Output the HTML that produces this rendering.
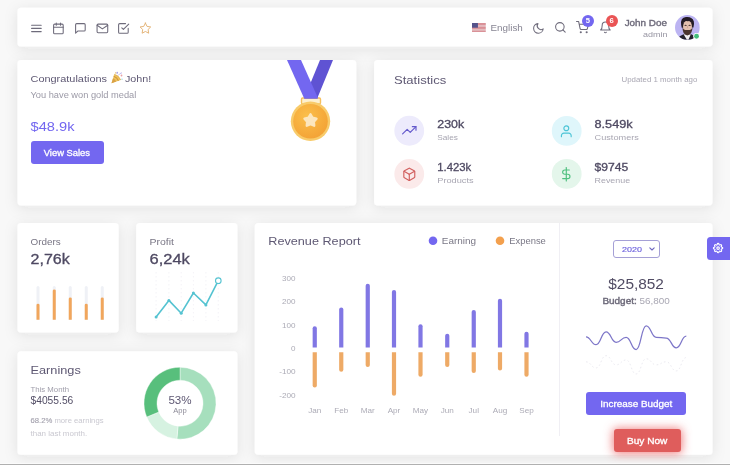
<!DOCTYPE html>
<html><head><meta charset="utf-8"><title>Dashboard</title>
<style>
html,body{margin:0;padding:0;}
body{width:730px;height:465px;overflow:hidden;background:#f8f8f8;position:relative;font-family:"Liberation Sans",sans-serif;}
svg{position:absolute;overflow:visible;}
</style></head><body>
<svg style="left:0;top:0" width="730" height="465" viewBox="0 0 730 465"><defs><filter id="sh" filterUnits="userSpaceOnUse" x="-30" y="-30" width="790" height="525"><feDropShadow dx="0" dy="2.5" stdDeviation="7" flood-color="#2a2c30" flood-opacity="0.095"/></filter></defs><rect x="17.5" y="7.8" width="695.00" height="38.80" rx="3.6" fill="#fff" filter="url(#sh)"/><rect x="17.5" y="60.1" width="338.75" height="145.30" rx="3.6" fill="#fff" filter="url(#sh)"/><rect x="374.1" y="60.1" width="338.40" height="145.30" rx="3.6" fill="#fff" filter="url(#sh)"/><rect x="17.5" y="223" width="101.10" height="109.60" rx="3.6" fill="#fff" filter="url(#sh)"/><rect x="136.2" y="223" width="101.20" height="109.60" rx="3.6" fill="#fff" filter="url(#sh)"/><rect x="17.5" y="351.25" width="219.90" height="103.55" rx="3.6" fill="#fff" filter="url(#sh)"/><rect x="254.8" y="223" width="457.70" height="231.80" rx="3.6" fill="#fff" filter="url(#sh)"/><rect x="559" y="223" width="0.9" height="213" fill="#efeef3"/></svg>
<svg style="left:30.35px;top:21.65px" width="12.8" height="12.8" viewBox="0 0 24 24" fill="none" stroke="#6e6b7b" stroke-width="2" stroke-linecap="round" stroke-linejoin="round" ><line x1="3" y1="12" x2="21" y2="12"/><line x1="3" y1="6" x2="21" y2="6"/><line x1="3" y1="18" x2="21" y2="18"/></svg>
<svg style="left:52.05px;top:21.65px" width="12.8" height="12.8" viewBox="0 0 24 24" fill="none" stroke="#6e6b7b" stroke-width="2" stroke-linecap="round" stroke-linejoin="round" ><rect x="3" y="4" width="18" height="18" rx="2" ry="2"/><line x1="16" y1="2" x2="16" y2="6"/><line x1="8" y1="2" x2="8" y2="6"/><line x1="3" y1="10" x2="21" y2="10"/></svg>
<svg style="left:74.00px;top:21.65px" width="12.8" height="12.8" viewBox="0 0 24 24" fill="none" stroke="#6e6b7b" stroke-width="2" stroke-linecap="round" stroke-linejoin="round" ><path d="M21 15a2 2 0 0 1-2 2H7l-4 4V5a2 2 0 0 1 2-2h14a2 2 0 0 1 2 2z"/></svg>
<svg style="left:95.60px;top:21.65px" width="12.8" height="12.8" viewBox="0 0 24 24" fill="none" stroke="#6e6b7b" stroke-width="2" stroke-linecap="round" stroke-linejoin="round" ><path d="M4 4h16c1.1 0 2 .9 2 2v12c0 1.1-.9 2-2 2H4c-1.1 0-2-.9-2-2V6c0-1.1.9-2 2-2z"/><polyline points="22,6 12,13 2,6"/></svg>
<svg style="left:117.10px;top:21.65px" width="12.8" height="12.8" viewBox="0 0 24 24" fill="none" stroke="#6e6b7b" stroke-width="2" stroke-linecap="round" stroke-linejoin="round" ><polyline points="9 11 12 14 22 4"/><path d="M21 12v7a2 2 0 0 1-2 2H5a2 2 0 0 1-2-2V5a2 2 0 0 1 2-2h11"/></svg>
<svg style="left:138.70px;top:21.60px" width="12.8" height="12.8" viewBox="0 0 24 24" fill="none" stroke="#e3b274" stroke-width="1.8" stroke-linecap="round" stroke-linejoin="round" ><polygon points="12 2 15.090 8.260 22 9.270 17 14.140 18.180 21.020 12 17.770 5.820 21.020 7 14.140 2 9.270 8.910 8.260 12 2"/></svg>
<svg style="left:471.75px;top:23.25px" width="13.75" height="8.75" viewBox="0 0 22 14" preserveAspectRatio="none">
<rect width="22" height="14" fill="#efe4e6"/>
<g fill="#cf6a72"><rect y="0" width="22" height="1.100"/><rect y="2.150" width="22" height="1.100"/><rect y="4.300" width="22" height="1.100"/><rect y="6.450" width="22" height="1.100"/><rect y="8.600" width="22" height="1.100"/><rect y="10.750" width="22" height="1.100"/><rect y="12.900" width="22" height="1.100"/></g>
<rect width="9.500" height="7.550" fill="#55538b"/></svg>
<svg style="left:532.10px;top:21.70px" width="12.8" height="12.8" viewBox="0 0 24 24" fill="none" stroke="#6e6b7b" stroke-width="2" stroke-linecap="round" stroke-linejoin="round" ><path d="M21 12.790A9 9 0 1 1 11.210 3 7 7 0 0 0 21 12.790z"/></svg>
<svg style="left:554.20px;top:21.40px" width="12.8" height="12.8" viewBox="0 0 24 24" fill="none" stroke="#6e6b7b" stroke-width="2" stroke-linecap="round" stroke-linejoin="round" ><circle cx="11" cy="11" r="8"/><line x1="21" y1="21" x2="16.650" y2="16.650"/></svg>
<svg style="left:575.60px;top:21.20px" width="12.8" height="12.8" viewBox="0 0 24 24" fill="none" stroke="#6e6b7b" stroke-width="2" stroke-linecap="round" stroke-linejoin="round" ><circle cx="9" cy="21" r="1"/><circle cx="20" cy="21" r="1"/><path d="M1 1h4l2.680 13.390a2 2 0 0 0 2 1.610h9.720a2 2 0 0 0 2-1.610L23 6H6"/></svg>
<svg style="left:598.70px;top:21.30px" width="12.8" height="12.8" viewBox="0 0 24 24" fill="none" stroke="#6e6b7b" stroke-width="2" stroke-linecap="round" stroke-linejoin="round" ><path d="M18 8A6 6 0 0 0 6 8c0 7-3 9-3 9h18s-3-2-3-9"/><path d="M13.730 21a2 2 0 0 1-3.460 0"/></svg>
<div style="position:absolute;left:581.75px;top:14.75px;width:12px;height:12px;border-radius:50%;background:#7367f0;"></div>
<div style="position:absolute;left:605.5px;top:14.75px;width:12px;height:12px;border-radius:50%;background:#ea5455;"></div>
<svg style="left:675px;top:15.100px" width="24.800" height="24.800" viewBox="0 0 25 25">
<defs><clipPath id="av"><circle cx="12.500" cy="12.500" r="12.500"/></clipPath></defs>
<g clip-path="url(#av)">
<rect width="25" height="25" fill="#bcb4f2"/>
<path d="M2.500 25 L4.800 21.300 L9 19.200 L16 19.200 L19.800 21.300 L21.500 25 Z" fill="#24212c"/>
<path d="M8.600 19.300 L12 25 L13.500 25 L16 19.300 Z" fill="#f3f0f3"/>
<path d="M6.200 10 Q5.200 2.600 11 2 Q17.500 1.300 19 6.500 Q19.600 9.500 18.600 12.500 L6.800 12.800 Z" fill="#241c26"/>
<ellipse cx="12.600" cy="11.800" rx="4.500" ry="6.300" fill="#e3bfae"/>
<path d="M7.600 12 Q7.300 19.600 12.400 20.600 Q17.600 19.600 17.700 12 Q16.600 15.600 12.600 15.200 Q8.600 15.600 7.600 12 Z" fill="#4b352f"/>
<ellipse cx="10.700" cy="10.500" rx="1.150" ry="0.600" fill="#3b2b2c" opacity="0.850"/><ellipse cx="14.700" cy="10.500" rx="1.150" ry="0.600" fill="#3b2b2c" opacity="0.850"/><path d="M12.700 11 L12.500 13.300" stroke="#c99c8a" stroke-width="0.700"/>
<path d="M7.400 10.500 Q7.600 6.500 9.500 5.600 Q13 6.800 16.200 5.500 Q17.800 7 17.800 10.500 Q18.800 7 17.500 4.500 Q14 2.500 9 3.600 Q6.500 6 7.400 10.500 Z" fill="#241c26"/>
</g>
<circle cx="21.700" cy="21.400" r="3.300" fill="#fff"/><circle cx="21.700" cy="21.400" r="2.450" fill="#43bd7b"/>
</svg>
<svg style="left:109.500px;top:71.200px" width="13.500" height="13" viewBox="0 0 27 26">
<path d="M3 24.500 L8.500 6.500 Q17 8 21.500 18 Z" fill="#efc55c"/>
<path d="M3 24.500 L6 14.500 Q10 16 12.500 21 Z" fill="#d9a147"/>
<path d="M7.400 10.500 Q14 12.500 17 19.500" fill="none" stroke="#cf9440" stroke-width="2.200"/>
<path d="M8.500 6.500 Q17 8 21.500 18" fill="none" stroke="#d8a64a" stroke-width="1.400"/>
<circle cx="14.500" cy="3.500" r="1.800" fill="#a9a4ee"/><circle cx="23" cy="9" r="1.800" fill="#e9a0a6"/><circle cx="24" cy="16.500" r="1.500" fill="#9fd8e6"/>
<path d="M16.500 9 Q19 4.500 24 3.500" stroke="#b9b3ef" stroke-width="1.800" fill="none"/><path d="M11 2 L12 6" stroke="#e8c37a" stroke-width="1.600"/>
</svg>
<div style="position:absolute;left:30.5px;top:140.75px;width:73px;height:23px;background:#7367f0;border-radius:3px;"></div>
<svg style="left:280px;top:60px" width="60" height="90" viewBox="0 0 60 90">
<defs>
<linearGradient id="rb1" x1="0" y1="0" x2="1" y2="1"><stop offset="0" stop-color="#7a6ff2"/><stop offset="1" stop-color="#6256d9"/></linearGradient>
<radialGradient id="gd" cx="0.4" cy="0.350" r="0.750"><stop offset="0" stop-color="#fbbf4a"/><stop offset="0.700" stop-color="#f5a93a"/><stop offset="1" stop-color="#f2a035"/></radialGradient>
</defs>
<rect x="21.500" y="38" width="19" height="6" rx="1.200" fill="#fdf0cf" stroke="#f6c060" stroke-width="1.400"/>
<path d="M40 0 L53 0 L37.200 38.400 L24.200 38.400 Z" fill="#5f53d3"/>
<path d="M7 0 L21 0 L38.200 38.400 L24.200 38.400 Z" fill="#7367f0"/>

<circle cx="30.500" cy="61.300" r="19.700" fill="#f8cb6a"/>
<circle cx="30.500" cy="61.300" r="17.300" fill="url(#gd)"/>
<path d="M30.50 54.30 L32.56 57.77 L36.49 58.65 L33.83 61.68 L34.20 65.70 L30.50 64.10 L26.80 65.70 L27.17 61.68 L24.51 58.65 L28.44 57.77 Z" fill="#fce6bd" stroke="#fce6bd" stroke-width="2.400" stroke-linejoin="round"/>
</svg>
<svg style="left:0;top:0" width="730" height="465"><circle cx="409.25" cy="130.75" r="14.9" fill="#edebfc"/></svg>
<svg style="left:401.95px;top:123.45px" width="14.6" height="14.6" viewBox="0 0 24 24" fill="none" stroke="#6359cc" stroke-width="1.9" stroke-linecap="round" stroke-linejoin="round" ><polyline points="23 6 13.500 15.500 8.500 10.500 1 18"/><polyline points="17 6 23 6 23 12"/></svg>
<svg style="left:0;top:0" width="730" height="465"><circle cx="409.25" cy="173.95" r="14.9" fill="#fbeaea"/></svg>
<svg style="left:401.95px;top:166.65px" width="14.6" height="14.6" viewBox="0 0 24 24" fill="none" stroke="#d2605f" stroke-width="1.9" stroke-linecap="round" stroke-linejoin="round" ><path d="M21 16V8a2 2 0 0 0-1-1.730l-7-4a2 2 0 0 0-2 0l-7 4A2 2 0 0 0 3 8v8a2 2 0 0 0 1 1.730l7 4a2 2 0 0 0 2 0l7-4A2 2 0 0 0 21 16z"/><polyline points="3.270 6.960 12 12.010 20.730 6.960"/><line x1="12" y1="22.080" x2="12" y2="12"/></svg>
<svg style="left:0;top:0" width="730" height="465"><circle cx="566.7" cy="130.9" r="14.9" fill="#dff6fb"/></svg>
<svg style="left:559.40px;top:123.60px" width="14.6" height="14.6" viewBox="0 0 24 24" fill="none" stroke="#4cc4d6" stroke-width="1.9" stroke-linecap="round" stroke-linejoin="round" ><path d="M20 21v-2a4 4 0 0 0-4-4H8a4 4 0 0 0-4 4v2"/><circle cx="12" cy="7" r="4"/></svg>
<svg style="left:0;top:0" width="730" height="465"><circle cx="566.7" cy="173.9" r="14.9" fill="#e4f6eb"/></svg>
<svg style="left:559.40px;top:166.60px" width="14.6" height="14.6" viewBox="0 0 24 24" fill="none" stroke="#4fc07f" stroke-width="1.9" stroke-linecap="round" stroke-linejoin="round" ><line x1="12" y1="1" x2="12" y2="23"/><path d="M17 5H9.500a3.500 3.500 0 0 0 0 7h5a3.500 3.500 0 0 1 0 7H6"/></svg>
<svg style="left:0;top:0" width="730" height="465" viewBox="0 0 730 465"><path d="M36.5 319.7 V287.5 A1.5 1.5 0 0 1 39.5 287.5 V319.7 Z" fill="#eff1f6"/><path d="M36.5 319.7 V304.95 A1.5 1.2 0 0 1 39.5 304.95 V319.7 Z" fill="#f1a65c"/><path d="M52.75 319.7 V287.5 A1.5 1.5 0 0 1 55.75 287.5 V319.7 Z" fill="#eff1f6"/><path d="M52.75 319.7 V290.7 A1.5 1.2 0 0 1 55.75 290.7 V319.7 Z" fill="#f1a65c"/><path d="M68.75 319.7 V287.5 A1.5 1.5 0 0 1 71.75 287.5 V319.7 Z" fill="#eff1f6"/><path d="M68.75 319.7 V298.7 A1.5 1.2 0 0 1 71.75 298.7 V319.7 Z" fill="#f1a65c"/><path d="M84.75 319.7 V287.5 A1.5 1.5 0 0 1 87.75 287.5 V319.7 Z" fill="#eff1f6"/><path d="M84.75 319.7 V304.95 A1.5 1.2 0 0 1 87.75 304.95 V319.7 Z" fill="#f1a65c"/><path d="M100.75 319.7 V287.5 A1.5 1.5 0 0 1 103.75 287.5 V319.7 Z" fill="#eff1f6"/><path d="M100.75 319.7 V298.7 A1.5 1.2 0 0 1 103.75 298.7 V319.7 Z" fill="#f1a65c"/></svg>
<svg style="left:0;top:0" width="730" height="465" viewBox="0 0 730 465"><line x1="156.1" y1="272" x2="156.1" y2="321" stroke="#efeef3" stroke-width="0.7" stroke-dasharray="1.5 2.5"/><line x1="168.9" y1="272" x2="168.9" y2="321" stroke="#efeef3" stroke-width="0.7" stroke-dasharray="1.5 2.5"/><line x1="181.2" y1="272" x2="181.2" y2="321" stroke="#efeef3" stroke-width="0.7" stroke-dasharray="1.5 2.5"/><line x1="193.4" y1="272" x2="193.4" y2="321" stroke="#efeef3" stroke-width="0.7" stroke-dasharray="1.5 2.5"/><line x1="205.9" y1="272" x2="205.9" y2="321" stroke="#efeef3" stroke-width="0.7" stroke-dasharray="1.5 2.5"/><line x1="218.3" y1="272" x2="218.3" y2="321" stroke="#efeef3" stroke-width="0.7" stroke-dasharray="1.5 2.5"/><polyline points="156.1,317.1 168.9,300.4 181.2,313.2 193.4,293 205.9,304.9 216.9,283.3" fill="none" stroke="#55c3d1" stroke-width="1.6" stroke-linejoin="round" stroke-linecap="round"/><circle cx="156.1" cy="317.1" r="1.5" fill="#55c3d1"/><circle cx="168.9" cy="300.4" r="1.5" fill="#55c3d1"/><circle cx="181.2" cy="313.2" r="1.5" fill="#55c3d1"/><circle cx="193.4" cy="293" r="1.5" fill="#55c3d1"/><circle cx="205.9" cy="304.9" r="1.5" fill="#55c3d1"/><circle cx="218.3" cy="280.7" r="2.8" fill="#fff" stroke="#55c3d1" stroke-width="1.1"/></svg>
<svg style="left:0;top:0" width="730" height="465" viewBox="0 0 730 465"><path d="M180.00 367.25 A36 36 0 1 1 176.86 439.11 L178.00 426.16 A23 23 0 1 0 180.00 380.25 Z" fill="#a6dfbd" stroke="#fff" stroke-width="0.4"/><path d="M176.86 439.11 A36 36 0 0 1 146.74 417.03 L158.75 412.05 A23 23 0 0 0 178.00 426.16 Z" fill="#d6f2e1" stroke="#fff" stroke-width="0.4"/><path d="M146.74 417.03 A36 36 0 0 1 180.00 367.25 L180.00 380.25 A23 23 0 0 0 158.75 412.05 Z" fill="#58bf7c" stroke="#fff" stroke-width="0.4"/></svg>
<svg style="left:0;top:0" width="730" height="465"><circle cx="433" cy="240.75" r="4.3" fill="#7367f0"/><circle cx="500" cy="240.75" r="4.3" fill="#f3a04e"/></svg>
<svg style="left:0;top:0" width="730" height="465" viewBox="0 0 730 465"><path d="M312.65 347.5 V328.35 A2.1 2.1 0 0 1 316.85 328.35 V347.5 Z" fill="#8177e4"/><path d="M312.65 352.25 V385.4 A2.1 2.1 0 0 0 316.85 385.4 V352.25 Z" fill="#eeaa66"/><path d="M339.15 347.5 V309.6 A2.1 2.1 0 0 1 343.35 309.6 V347.5 Z" fill="#8177e4"/><path d="M339.15 352.25 V369.65 A2.1 2.1 0 0 0 343.35 369.65 V352.25 Z" fill="#eeaa66"/><path d="M365.65 347.5 V285.85 A2.1 2.1 0 0 1 369.85 285.85 V347.5 Z" fill="#8177e4"/><path d="M365.65 352.25 V364.9 A2.1 2.1 0 0 0 369.85 364.9 V352.25 Z" fill="#eeaa66"/><path d="M391.9 347.5 V292.1 A2.1 2.1 0 0 1 396.1 292.1 V347.5 Z" fill="#8177e4"/><path d="M391.9 352.25 V393.65 A2.1 2.1 0 0 0 396.1 393.65 V352.25 Z" fill="#eeaa66"/><path d="M418.4 347.5 V326.35 A2.1 2.1 0 0 1 422.6 326.35 V347.5 Z" fill="#8177e4"/><path d="M418.4 352.25 V374.65 A2.1 2.1 0 0 0 422.6 374.65 V352.25 Z" fill="#eeaa66"/><path d="M445.15 347.5 V335.85 A2.1 2.1 0 0 1 449.35 335.85 V347.5 Z" fill="#8177e4"/><path d="M445.15 352.25 V364.9 A2.1 2.1 0 0 0 449.35 364.9 V352.25 Z" fill="#eeaa66"/><path d="M471.65 347.5 V312.1 A2.1 2.1 0 0 1 475.85 312.1 V347.5 Z" fill="#8177e4"/><path d="M471.65 352.25 V370.9 A2.1 2.1 0 0 0 475.85 370.9 V352.25 Z" fill="#eeaa66"/><path d="M497.9 347.5 V300.85 A2.1 2.1 0 0 1 502.1 300.85 V347.5 Z" fill="#8177e4"/><path d="M497.9 352.25 V368.4 A2.1 2.1 0 0 0 502.1 368.4 V352.25 Z" fill="#eeaa66"/><path d="M524.4 347.5 V333.85 A2.1 2.1 0 0 1 528.6 333.85 V347.5 Z" fill="#8177e4"/><path d="M524.4 352.25 V374.65 A2.1 2.1 0 0 0 528.6 374.65 V352.25 Z" fill="#eeaa66"/></svg>
<div style="position:absolute;left:612.5px;top:240.2px;width:47.2px;height:17.9px;border:1px solid #a5a0d6;border-radius:3px;box-sizing:border-box;"></div>
<svg style="left:649px;top:246px" width="6" height="6" viewBox="0 0 6 6"><polyline points="0.8,1.8 3,4 5.2,1.8" fill="none" stroke="#6f68c0" stroke-width="1.1" stroke-linecap="round" stroke-linejoin="round"/></svg>
<svg style="left:0;top:0" width="730" height="465" viewBox="0 0 730 465"><path d="M586.00 336.79 C591.01 336.79 591.01 344.72 596.03 344.72 C601.04 344.72 601.04 331.91 606.06 331.91 C611.08 331.91 611.08 342.28 616.09 342.28 C621.11 342.28 621.11 337.40 626.12 337.40 C631.13 337.40 631.13 349.60 636.15 349.60 C641.16 349.60 641.16 325.81 646.18 325.81 C651.19 325.81 651.19 337.40 656.21 337.40 C661.23 337.40 661.23 338.01 666.24 338.01 C671.25 338.01 671.25 347.77 676.27 347.77 C681.28 347.77 681.28 336.18 686.30 336.18" fill="none" stroke="#7d76c8" stroke-width="1.25"/><path d="M586.00 361.80 C591.01 361.80 591.01 367.90 596.03 367.90 C601.04 367.90 601.04 355.70 606.06 355.70 C611.08 355.70 611.08 364.85 616.09 364.85 C621.11 364.85 621.11 359.97 626.12 359.97 C631.13 359.97 631.13 374.00 636.15 374.00 C641.16 374.00 641.16 358.75 646.18 358.75 C651.19 358.75 651.19 364.85 656.21 364.85 C661.23 364.85 661.23 361.80 666.24 361.80 C671.25 361.80 671.25 370.95 676.27 370.95 C681.28 370.95 681.28 357.53 686.30 357.53" fill="none" stroke="#e9e8ee" stroke-width="0.9" stroke-dasharray="1.6 2.4"/></svg>
<div style="position:absolute;left:586.3px;top:391.7px;width:100px;height:23.3px;background:#7367f0;border-radius:3px;"></div>
<div style="position:absolute;left:613.7px;top:429.3px;width:67.6px;height:23px;background:#df5d5c;border-radius:3px;box-shadow:0 0.5px 10px 1px rgba(234,84,85,.75);"></div>
<div style="position:absolute;left:706.8px;top:237px;width:23.5px;height:23px;background:#7367f0;border-radius:3.5px 0 0 3.5px;"></div>
<svg style="left:713.30px;top:243.30px" width="10.2" height="10.2" viewBox="0 0 24 24" fill="none" stroke="#fff" stroke-width="2.7" stroke-linecap="round" stroke-linejoin="round" ><circle cx="12" cy="12" r="3"/><path d="M19.4 15a1.650 1.650 0 0 0 .330 1.820l.060.060a2 2 0 0 1 0 2.830 2 2 0 0 1-2.830 0l-.060-.060a1.650 1.650 0 0 0-1.820-.330 1.650 1.650 0 0 0-1 1.510V21a2 2 0 0 1-2 2 2 2 0 0 1-2-2v-.090A1.650 1.650 0 0 0 9 19.400a1.650 1.650 0 0 0-1.820.330l-.060.060a2 2 0 0 1-2.830 0 2 2 0 0 1 0-2.830l.060-.060a1.650 1.650 0 0 0 .330-1.820 1.650 1.650 0 0 0-1.510-1H3a2 2 0 0 1-2-2 2 2 0 0 1 2-2h.090A1.650 1.650 0 0 0 4.600 9a1.650 1.650 0 0 0-.330-1.820l-.060-.060a2 2 0 0 1 0-2.830 2 2 0 0 1 2.830 0l.060.060a1.650 1.650 0 0 0 1.820.330H9a1.650 1.650 0 0 0 1-1.510V3a2 2 0 0 1 2-2 2 2 0 0 1 2 2v.090a1.650 1.650 0 0 0 1 1.510 1.650 1.650 0 0 0 1.820-.330l.060-.060a2 2 0 0 1 2.830 0 2 2 0 0 1 0 2.830l-.060.060a1.650 1.650 0 0 0-.330 1.820V9a1.650 1.650 0 0 0 1.510 1H21a2 2 0 0 1 2 2 2 2 0 0 1-2 2h-.090a1.650 1.650 0 0 0-1.510 1z"/></svg>
<div style="position:absolute;left:0px;top:463px;width:730px;height:1px;background:rgba(255,255,255,.55);"></div>
<div style="position:absolute;left:0px;top:464px;width:730px;height:1px;background:#b0b0b0;"></div>
<svg style="left:0;top:0;will-change:transform" width="730" height="465" viewBox="0 0 730 465" font-family="Liberation Sans, sans-serif">
<text x="490.50" y="30.50" font-size="9" fill="#878593" text-anchor="start" textLength="32.30" lengthAdjust="spacingAndGlyphs">English</text>
<text x="587.75" y="23.40" font-size="7.6" fill="#fff" text-anchor="middle" font-weight="700">5</text>
<text x="611.50" y="23.40" font-size="7.6" fill="#fff" text-anchor="middle" font-weight="700">6</text>
<text x="624.70" y="26.40" font-size="8.5" fill="#6e6b7b" text-anchor="start" textLength="42.20" lengthAdjust="spacingAndGlyphs" stroke="#6e6b7b" stroke-width="0.35">John Doe</text>
<text x="643.00" y="36.70" font-size="7.5" fill="#9795a2" text-anchor="start" textLength="24.50" lengthAdjust="spacingAndGlyphs">admin</text>
<text x="30.50" y="81.75" font-size="9.4" fill="#5e5873" text-anchor="start" textLength="76.50" lengthAdjust="spacingAndGlyphs">Congratulations</text>
<text x="125.00" y="81.75" font-size="9.4" fill="#5e5873" text-anchor="start" textLength="26.25" lengthAdjust="spacingAndGlyphs">John!</text>
<text x="30.50" y="98.00" font-size="8.7" fill="#9b99a6" text-anchor="start" textLength="105.75" lengthAdjust="spacingAndGlyphs">You have won gold medal</text>
<text x="30.50" y="131.00" font-size="13.5" fill="#7367f0" text-anchor="start" textLength="44.00" lengthAdjust="spacingAndGlyphs">$48.9k</text>
<text x="43.75" y="155.60" font-size="8.75" fill="#fff" text-anchor="start" textLength="46.25" lengthAdjust="spacingAndGlyphs" stroke="#fff" stroke-width="0.3">View Sales</text>
<text x="394.00" y="83.75" font-size="11.6" fill="#5e5873" text-anchor="start" textLength="52.30" lengthAdjust="spacingAndGlyphs">Statistics</text>
<text x="621.50" y="81.75" font-size="7.5" fill="#a9a7b3" text-anchor="start" textLength="75.80" lengthAdjust="spacingAndGlyphs">Updated 1 month ago</text>
<text x="437.25" y="128.15" font-size="10.8" fill="#4e4962" text-anchor="start" textLength="26.90" lengthAdjust="spacingAndGlyphs" stroke="#4e4962" stroke-width="0.3">230k</text>
<text x="437.25" y="140.15" font-size="8.1" fill="#a8a6b2" text-anchor="start" textLength="20.70" lengthAdjust="spacingAndGlyphs">Sales</text>
<text x="437.25" y="170.65" font-size="10.8" fill="#4e4962" text-anchor="start" textLength="34.00" lengthAdjust="spacingAndGlyphs" stroke="#4e4962" stroke-width="0.3">1.423k</text>
<text x="437.25" y="182.65" font-size="8.1" fill="#a8a6b2" text-anchor="start" textLength="36.40" lengthAdjust="spacingAndGlyphs">Products</text>
<text x="594.50" y="128.30" font-size="10.8" fill="#4e4962" text-anchor="start" textLength="38.20" lengthAdjust="spacingAndGlyphs" stroke="#4e4962" stroke-width="0.3">8.549k</text>
<text x="594.50" y="140.30" font-size="8.1" fill="#a8a6b2" text-anchor="start" textLength="44.40" lengthAdjust="spacingAndGlyphs">Customers</text>
<text x="594.50" y="170.70" font-size="10.8" fill="#4e4962" text-anchor="start" textLength="33.70" lengthAdjust="spacingAndGlyphs" stroke="#4e4962" stroke-width="0.3">$9745</text>
<text x="594.50" y="182.70" font-size="8.1" fill="#a8a6b2" text-anchor="start" textLength="35.70" lengthAdjust="spacingAndGlyphs">Revenue</text>
<text x="30.50" y="244.60" font-size="8.8" fill="#787584" text-anchor="start" textLength="30.20" lengthAdjust="spacingAndGlyphs">Orders</text>
<text x="30.50" y="263.75" font-size="14.6" fill="#4e4962" text-anchor="start" textLength="39.30" lengthAdjust="spacingAndGlyphs" stroke="#4e4962" stroke-width="0.3">2,76k</text>
<text x="149.50" y="244.60" font-size="8.8" fill="#787584" text-anchor="start" textLength="24.50" lengthAdjust="spacingAndGlyphs">Profit</text>
<text x="149.50" y="263.75" font-size="14.6" fill="#4e4962" text-anchor="start" textLength="40.30" lengthAdjust="spacingAndGlyphs" stroke="#4e4962" stroke-width="0.3">6,24k</text>
<text x="30.50" y="373.75" font-size="11.5" fill="#5e5873" text-anchor="start" textLength="50.30" lengthAdjust="spacingAndGlyphs">Earnings</text>
<text x="30.50" y="391.50" font-size="7.6" fill="#9f9daa" text-anchor="start" textLength="38.50" lengthAdjust="spacingAndGlyphs">This Month</text>
<text x="30.50" y="404.00" font-size="10" fill="#534e66" text-anchor="start" textLength="42.80" lengthAdjust="spacingAndGlyphs">$4055.56</text>
<text x="30.50" y="423.00" font-size="7.4" fill="#c9c8d0" text-anchor="start" textLength="73.00" lengthAdjust="spacingAndGlyphs"><tspan fill="#a3a1ad" stroke="#a3a1ad" stroke-width="0.12">68.2%</tspan> more earnings</text>
<text x="30.50" y="436.00" font-size="7.4" fill="#c9c8d0" text-anchor="start" textLength="56.70" lengthAdjust="spacingAndGlyphs">than last month.</text>
<text x="180.00" y="404.00" font-size="11.6" fill="#5e5873" text-anchor="middle" textLength="23.20" lengthAdjust="spacingAndGlyphs">53%</text>
<text x="180.00" y="413.00" font-size="7.4" fill="#8b8996" text-anchor="middle" textLength="13.50" lengthAdjust="spacingAndGlyphs">App</text>
<text x="268.25" y="245.00" font-size="11.6" fill="#5e5873" text-anchor="start" textLength="92.20" lengthAdjust="spacingAndGlyphs">Revenue Report</text>
<text x="441.75" y="244.00" font-size="9" fill="#7a7886" text-anchor="start" textLength="34.30" lengthAdjust="spacingAndGlyphs">Earning</text>
<text x="509.25" y="244.00" font-size="9" fill="#7a7886" text-anchor="start" textLength="36.60" lengthAdjust="spacingAndGlyphs">Expense</text>
<text x="295.60" y="280.60" font-size="7.4" fill="#acabb6" text-anchor="end" textLength="13.50" lengthAdjust="spacingAndGlyphs">300</text>
<text x="295.60" y="303.85" font-size="7.4" fill="#acabb6" text-anchor="end" textLength="13.50" lengthAdjust="spacingAndGlyphs">200</text>
<text x="295.60" y="327.60" font-size="7.4" fill="#acabb6" text-anchor="end" textLength="13.50" lengthAdjust="spacingAndGlyphs">100</text>
<text x="295.60" y="350.85" font-size="7.4" fill="#acabb6" text-anchor="end" textLength="4.50" lengthAdjust="spacingAndGlyphs">0</text>
<text x="295.60" y="374.35" font-size="7.4" fill="#acabb6" text-anchor="end" textLength="16.40" lengthAdjust="spacingAndGlyphs">-100</text>
<text x="295.60" y="398.10" font-size="7.4" fill="#acabb6" text-anchor="end" textLength="16.40" lengthAdjust="spacingAndGlyphs">-200</text>
<text x="314.75" y="412.60" font-size="7.4" fill="#acabb6" text-anchor="middle" textLength="13.12" lengthAdjust="spacingAndGlyphs">Jan</text>
<text x="341.25" y="412.60" font-size="7.4" fill="#acabb6" text-anchor="middle" textLength="14.03" lengthAdjust="spacingAndGlyphs">Feb</text>
<text x="367.75" y="412.60" font-size="7.4" fill="#acabb6" text-anchor="middle" textLength="14.02" lengthAdjust="spacingAndGlyphs">Mar</text>
<text x="394.00" y="412.60" font-size="7.4" fill="#acabb6" text-anchor="middle" textLength="12.67" lengthAdjust="spacingAndGlyphs">Apr</text>
<text x="420.50" y="412.60" font-size="7.4" fill="#acabb6" text-anchor="middle" textLength="15.38" lengthAdjust="spacingAndGlyphs">May</text>
<text x="447.25" y="412.60" font-size="7.4" fill="#acabb6" text-anchor="middle" textLength="13.12" lengthAdjust="spacingAndGlyphs">Jun</text>
<text x="473.75" y="412.60" font-size="7.4" fill="#acabb6" text-anchor="middle" textLength="10.41" lengthAdjust="spacingAndGlyphs">Jul</text>
<text x="500.00" y="412.60" font-size="7.4" fill="#acabb6" text-anchor="middle" textLength="14.48" lengthAdjust="spacingAndGlyphs">Aug</text>
<text x="526.50" y="412.60" font-size="7.4" fill="#acabb6" text-anchor="middle" textLength="14.48" lengthAdjust="spacingAndGlyphs">Sep</text>
<text x="622.00" y="251.70" font-size="7.6" fill="#6a5fdc" text-anchor="start" textLength="20.00" lengthAdjust="spacingAndGlyphs" stroke="#6a5fdc" stroke-width="0.15">2020</text>
<text x="608.25" y="288.90" font-size="15.2" fill="#514c64" text-anchor="start" textLength="55.70" lengthAdjust="spacingAndGlyphs">$25,852</text>
<text x="602.50" y="304.30" font-size="8.8" fill="#a9a7b3" text-anchor="start" textLength="67.20" lengthAdjust="spacingAndGlyphs"><tspan fill="#6e6b7b" stroke="#6e6b7b" stroke-width="0.4">Budget:</tspan> 56,800</text>
<text x="600.30" y="406.50" font-size="8.75" fill="#fff" text-anchor="start" textLength="72.00" lengthAdjust="spacingAndGlyphs" stroke="#fff" stroke-width="0.3">Increase Budget</text>
<text x="627.00" y="444.00" font-size="8.75" fill="#fff" text-anchor="start" textLength="40.30" lengthAdjust="spacingAndGlyphs" stroke="#fff" stroke-width="0.3">Buy Now</text>
</svg>
</body></html>
